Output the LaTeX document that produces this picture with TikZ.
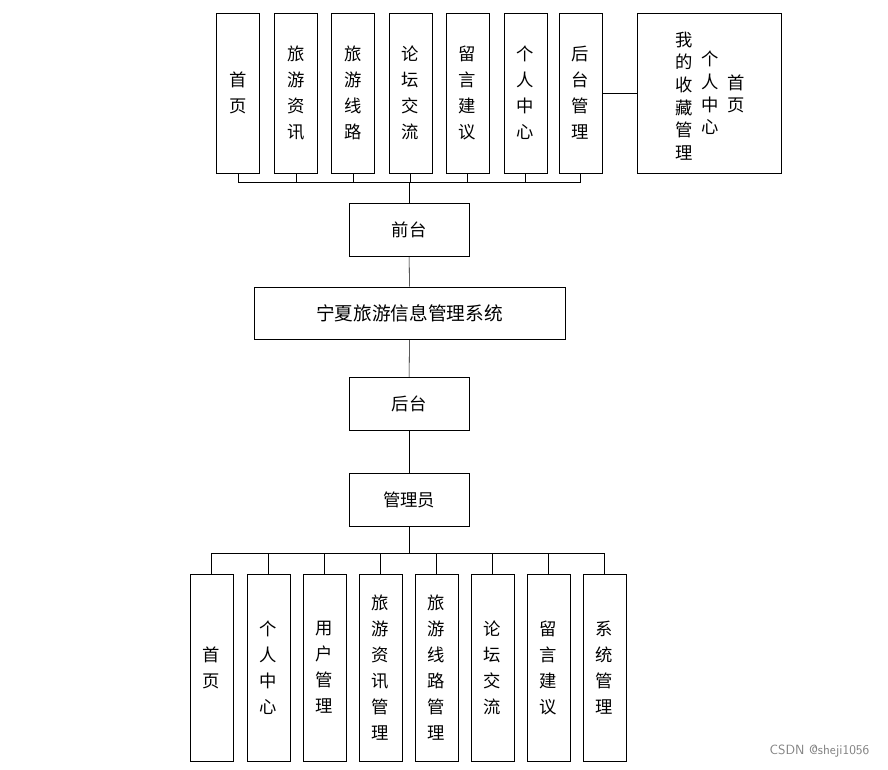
\documentclass[tikz,border=0pt]{standalone}
\usepackage{fontspec}
\newfontfamily\cjk{Noto Sans CJK SC}
\usetikzlibrary{positioning}
\tikzset{
  txt/.style={align=center, inner sep=0pt, font=\cjk\fontsize{13}{19.5}\selectfont},
  box/.style={txt, draw, thin},
  col/.style={box, minimum width=32pt, minimum height=120pt},
  lowcol/.style={box, minimum width=32pt, minimum height=140pt},
  wide/.style={box, minimum width=90pt, minimum height=40pt}
}
\begin{document}
\begin{tikzpicture}[x=0.75pt,y=-0.75pt]
\useasboundingbox (0,0) rectangle (888,770);
% front end
\node[wide] (qt) at (409,230) {前台};
\node[box, minimum width=233pt, minimum height=39pt, font=\cjk\fontsize{14}{19.5}\selectfont] (sys) at (409.5,313) {宁夏旅游信息管理系统};
\node[wide] (ht) at (409,404) {后台};
\node[wide] (gly) at (409,500) {管理员};
\foreach \n/\x/\t in {t1/238/首\\页, t2/296/旅\\游\\资\\讯, t3/353/旅\\游\\线\\路,
  t4/410.5/论\\坛\\交\\流, t5/467.5/留\\言\\建\\议, t6/525.5/个\\人\\中\\心, t7/580.5/后\\台\\管\\理}
{
  \node[col] (\n) at (\x,93) {\t};
  \draw (\n.south) |- (409,182) -- (qt.north);
}
\node[box, minimum width=108pt, minimum height=120pt] (grzx) at (709,93) {};
\node[txt, font=\cjk\fontsize{13}{17}\selectfont] (sc) at (684,96) {我\\的\\收\\藏\\管\\理};
\node[txt, font=\cjk\fontsize{13}{17}\selectfont] (zx) at (710,93) {个\\人\\中\\心};
\node[txt, font=\cjk\fontsize{13}{17}\selectfont] (sy) at (736,94) {首\\页};
\draw (t7.east) -- (grzx.west |- t7.east);
\draw (qt) -- (sys);
\draw (sys) -- (ht);
\draw (ht) -- (gly);
% back end
\foreach \n/\x/\t in {b1/211.5/首\\页, b2/268.5/个\\人\\中\\心, b3/324.5/用\\户\\管\\理,
  b4/380.5/旅\\游\\资\\讯\\管\\理, b5/436.5/旅\\游\\线\\路\\管\\理, b6/492.5/论\\坛\\交\\流,
  b7/548.5/留\\言\\建\\议, b8/604.5/系\\统\\管\\理}
{
  \node[lowcol] (\n) at (\x,667.5) {\t};
  \draw (gly.south) -- (409,553) -| (\n.north);
}
\node[anchor=south east, font=\sffamily\fontsize{10}{12}\selectfont, text=gray] (wm) at (874,762) {CSDN @sheji1056};
\end{tikzpicture}
\end{document}
